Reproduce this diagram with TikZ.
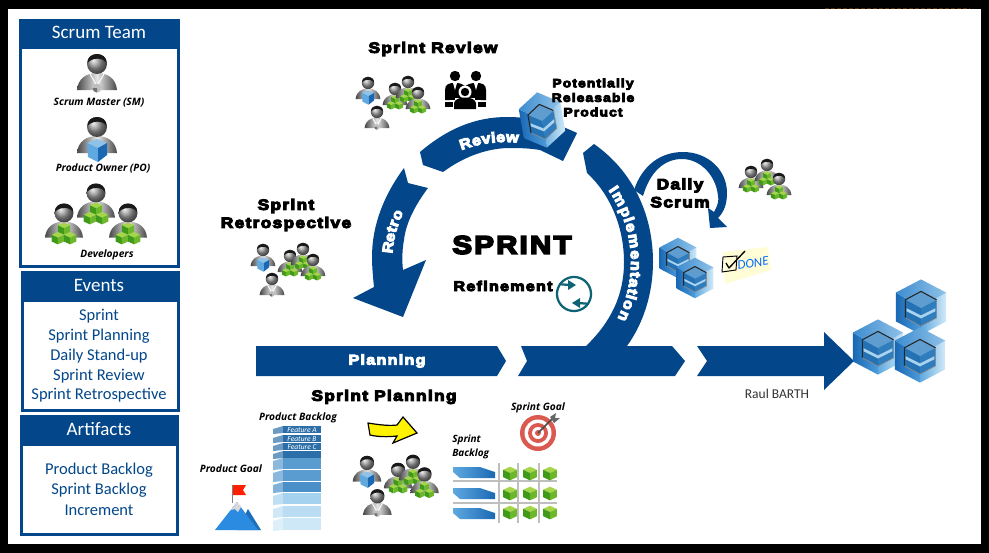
\documentclass[tikz,border=0pt]{standalone}
\usepackage{fontspec}
\usetikzlibrary{shadings}
\newfontfamily\cali{Carlito}
\newfontfamily\labit[ItalicFont=* Bold Italic]{Open Sans}
\newfontfamily\blk[FakeBold=7,FakeStretch=1.15,LetterSpace=9]{Liberation Sans Bold}
\newfontfamily\blkb[FakeBold=7,FakeStretch=1.12]{Liberation Sans Bold}
\definecolor{navy}{HTML}{03478A}
\definecolor{teal2}{HTML}{0E6475}
\definecolor{bkA}{HTML}{2C6EA8}
\definecolor{bkB}{HTML}{5A9BD0}
\definecolor{bkC}{HTML}{4A8FC8}
\definecolor{bkD}{HTML}{A5D2EE}
\definecolor{bkE}{HTML}{BBDDF3}
\definecolor{bkF}{HTML}{CFE8F7}
\definecolor{trg}{HTML}{DB5A50}
\definecolor{gtop}{HTML}{A5D64A}
\definecolor{gleft}{HTML}{3F9A1A}
\definecolor{gright}{HTML}{6DB82A}
\definecolor{cA}{HTML}{1A68B4}
\definecolor{cB}{HTML}{4C9BDA}
\definecolor{cC}{HTML}{5FA9E0}
\definecolor{cD}{HTML}{D3EAF8}
\definecolor{cE}{HTML}{8FC2E8}
\definecolor{cF}{HTML}{3D8CCF}
\definecolor{iT}{HTML}{5F9DD0}
\definecolor{iL}{HTML}{2472B4}
\definecolor{iR}{HTML}{2F7DBD}
\definecolor{iS}{HTML}{A9D3EF}
\definecolor{mtA}{HTML}{2A8BE0}
\definecolor{mtB}{HTML}{1E6FB8}
\newcommand{\fpx}[1]{\fontsize{\dimexpr #1pt*3/4\relax}{\dimexpr #1pt*9/10\relax}\selectfont}
\tikzset{
  blacklabel/.style={font=\blk\fpx{15},text=black,inner sep=0pt,align=center},
  onband/.style={font=\blk\fpx{14},text=white,inner sep=0pt},
  bandletter/.style={font=\blkb\fpx{14.5},text=white,inner sep=0pt,anchor=base},
  pantitle/.style={font=\cali\fpx{19},text=white,inner sep=0pt},
  panitem/.style={font=\cali\fpx{16.5},text=navy,inner sep=0pt},
  itlabel/.style={font=\labit\itshape\fpx{10.2},text=black,inner sep=0pt,align=left},
  personbase/.pic={
    \path[shade,left color=black!72,right color=black!72,middle color=black!10]
      (-20,26) .. controls (-19,14) and (-10,9) .. (0,9) .. controls (10,9) and (19,14) .. (20,26) -- cycle;
    \shade[ball color=black!40] (0,0) circle (10);
    \fill[black!90] (-9.7,-1) .. controls (-10,-13) and (10,-13) .. (9.7,-1) .. controls (7,-5) and (2,-6) .. (-3,-5) .. controls (-6,-4) and (-8,-3) .. (-9.7,-1) -- cycle;
  },
  smperson/.pic={
    \pic[transform shape] at (0,0) {personbase};
    \draw[white,line width=.7pt] (-7,10) -- (0,22) -- (7,10);
    \fill[black!25] (0,24) circle (4.5);
    \fill[black!55] (-4.5,24) arc[start angle=180,end angle=90,radius=4.5] -- (0,24) -- cycle;
  },
  poperson/.pic={
    \pic[transform shape] at (0,0) {personbase};
    \fill[cE] (-10,16) -- (0,12) -- (10,16) -- (1,21) -- cycle;
    \fill[cC] (-10,16) -- (1,21) -- (1,35) -- (-9,30) -- cycle;
    \fill[cA] (10,16) -- (1,21) -- (1,35) -- (10,28) -- cycle;
  },
  gcube/.pic={
    \fill[gtop] (-6.5,-3) -- (0,-6) -- (6.5,-3) -- (0,0) -- cycle;
    \fill[gleft] (-6.5,-3) -- (0,0) -- (0,7) -- (-6.5,4) -- cycle;
    \fill[gright] (6.5,-3) -- (0,0) -- (0,7) -- (6.5,4) -- cycle;
  },
  devperson/.pic={
    \pic[transform shape] at (0,0) {personbase};
    \pic[transform shape] at (0,16) {gcube};
    \pic[transform shape] at (-6.5,26) {gcube};
    \pic[transform shape] at (6.5,26) {gcube};
  },
  teamgroup/.pic={
    \pic[transform shape,scale=.62] at (0,0) {poperson};
    \pic[transform shape,scale=.62] at (27,6) {devperson};
    \pic[transform shape,scale=.62] at (40,-1) {devperson};
    \pic[transform shape,scale=.62] at (50,10) {devperson};
    \pic[transform shape,scale=.62] at (9,29) {smperson};
  },
  bcube/.pic={
    \shade[left color=cA,right color=cB] (-21,-12) -- (0,0) -- (0,23) -- (-21,12) -- cycle;
    \shade[left color=cC,right color=cD] (21,-12) -- (0,0) -- (0,23) -- (21,12) -- cycle;
    \shade[left color=cF,right color=cE] (-21,-12) -- (0,-23) -- (21,-12) -- (0,0) -- cycle;
    \fill[iT] (0,-13) -- (13,-6) -- (0,1) -- (-13,-6) -- cycle;
    \fill[iL] (-13,-6) -- (0,1) -- (0,16) -- (-13,9) -- cycle;
    \fill[iR] (13,-6) -- (0,1) -- (0,16) -- (13,9) -- cycle;
    \fill[iS] (-12,1) -- (0,7) -- (0,9.5) -- (-12,3.5) -- cycle;
    \fill[iS] (12,1) -- (0,7) -- (0,9.5) -- (12,3.5) -- cycle;
    \draw[black!85,line width=.8pt,line join=round] (-13,9) -- (-13,-6) -- (0,-13) -- (13,-6);
    \draw[black!45,line width=.5pt,line join=round] (13,-6) -- (13,9) -- (0,16) -- (-13,9);
  }
}
\begin{document}
\begin{tikzpicture}[x=.75pt,y=-.75pt]
\useasboundingbox (0,0) rectangle (989,553);
\fill[black] (0,0) rectangle (989,553);
\fill[white] (8,9) rectangle (981,544);
\draw[orange!35!black,line width=.5pt,dash pattern=on 3pt off 1.5pt] (825,8.3) -- (970,8.3);

% panels
\fill[navy] (19,19) rectangle (180,268);
\fill[white] (22,49) rectangle (177,265);
\node[pantitle] (tTeam) at (99,32) {Scrum Team};
\fill[navy] (21,271) rectangle (180,412);
\fill[white] (24,302) rectangle (177,409);
\node[pantitle] (tEvents) at (99,285) {Events};
\node[panitem] (e1) at (99,316) {Sprint};
\node[panitem] (e2) at (99,336) {Sprint Planning};
\node[panitem] (e3) at (99,356) {Daily Stand-up};
\node[panitem] (e4) at (99,376) {Sprint Review};
\node[panitem] (e5) at (99,395) {Sprint Retrospective};
\fill[navy] (20,415) rectangle (179,536);
\fill[white] (23,446) rectangle (176,533);
\node[pantitle] (tArt) at (99,429) {Artifacts};
\node[panitem] (a1) at (99,470) {Product Backlog};
\node[panitem] (a2) at (99,490) {Sprint Backlog};
\node[panitem] (a3) at (99,510) {Increment};

\pic at (97,64) {smperson};
\node[itlabel] (lSM) at (99,103) {Scrum Master (SM)};
\pic at (97,127) {poperson};
\node[itlabel] (lPO) at (103,168) {Product Owner (PO)};
\pic[scale=.95] at (96,193) {devperson};
\pic[scale=.95] at (64,213) {devperson};
\pic[scale=.95] at (128,213) {devperson};
\node[itlabel] (lDev) at (107,255) {Developers};

% chevrons
\fill[navy] (256,346) -- (497,346) -- (506,361) -- (497,376) -- (256,376) -- cycle;
\fill[navy] (521,346) -- (672,346) -- (685,361) -- (675,376) -- (518,376) -- (527,361) -- cycle;
\fill[navy] (697,346) -- (824,346) -- (824,332) -- (854,361) -- (824,390) -- (824,376) -- (697,376) -- (707,361) -- cycle;

% implementation arc
\fill[navy] (594,144) .. controls (634,172) and (653,216) .. (653,262) .. controls (653,294) and (643,324) .. (627,346)
  -- (586,346) .. controls (611,322) and (624,295) .. (624,262) .. controls (624,227) and (610,194) .. (587,173) -- (583,153) -- cycle;
% review arc
\fill[navy] (420,152) .. controls (447,129) and (475,117) .. (507,117) .. controls (525,117) and (550,120) .. (577,133)
  -- (563,161) -- (540,150) .. controls (528,148) and (517,148) .. (507,148) .. controls (484,149) and (462,158) .. (443,172) -- (423,165) -- cycle;
% retro arc
\fill[navy] (404,168) .. controls (384,195) and (372,225) .. (372,257) .. controls (372,267) and (373,277) .. (374,287)
  -- (353,298) -- (403,317) -- (426,260) -- (403,270) .. controls (402,262) and (402,250) .. (404,240) .. controls (406,222) and (416,204) .. (428,188) -- (408,183) -- cycle;
% daily arc
\fill[navy] (634,190) .. controls (642,166) and (660,152) .. (683,152) .. controls (708,152) and (727,170) .. (727,193) .. controls (727,204) and (724,212) .. (718,218)
  -- (727,227) -- (710,228) -- (708,208) -- (714,212) .. controls (718,205) and (719,200) .. (718,196) .. controls (716,175) and (700,159) .. (682,159) .. controls (664,159) and (650,172) .. (643,196) -- cycle;

% texts on bands
\foreach \ch/\ang [count=\i] in {I/-33.8,m/-28.9,p/-22.6,l/-18.9,e/-15.4,m/-9.3,e/-3.2,n/1.7,t/5.6,a/9.3,t/13.1,i/15.6,o/19.3,n/24.5}{
  \node[bandletter,rotate={270-\ang}] (impl\i) at ({505+126*cos(\ang)},{262+126*sin(\ang)}) {\ch};
}
\foreach \ch/\ang [count=\i] in {R/251.5,e/256.7,v/261.2,i/264.6,e/268,w/273.4}{
  \node[bandletter,rotate={270-\ang}] (revw\i) at ({505+120*cos(\ang)},{262+120*sin(\ang)}) {\ch};
}
\foreach \ch/\ang [count=\i] in {R/187.2,e/192.1,t/196,r/199.2,o/203.6}{
  \node[bandletter,rotate={270-\ang}] (retr\i) at ({505+113*cos(\ang)},{262+113*sin(\ang)}) {\ch};
}
\node[onband] (tPlan) at (387,361) {Planning};

\node[font=\blk\fpx{25.5},inner sep=0pt] (tSprint) at (512,245) {SPRINT};
\node[blacklabel,font=\blk\fpx{14}] (tRefine) at (503,286) {Refinement};
% refinement icon
\draw[teal2,line width=1.7pt] plot[smooth,samples=25,domain=215:395] ({574+17*cos(\x)},{294+17*sin(\x)}) -- (578,303);
\draw[teal2,line width=1.7pt] plot[smooth,samples=25,domain=35:215] ({574+17*cos(\x)},{294+17*sin(\x)}) -- (570,285);
\fill[teal2] (572,303) -- (580,298) -- (580,308) -- cycle;
\fill[teal2] (576,285) -- (568,280) -- (568,290) -- cycle;

% labels and icons at the top
\node[blacklabel] (tReview) at (433,49) {Sprint Review};
\pic at (368,83) {teamgroup};
\fill[black] (455,76) circle (5.2);
\fill[black] (476,76) circle (5.2);
\fill[black] (445,100) -- (445,90) .. controls (445,84) and (449,83) .. (455,83) .. controls (460,83) and (463,84) .. (465,86) .. controls (468,84) and (471,83) .. (476,83) .. controls (482,83) and (486,84) .. (486,90) -- (486,100) -- cycle;
\fill[white] (453,83) -- (457,83) -- (455,90) -- cycle;
\fill[white] (474,83) -- (478,83) -- (476,90) -- cycle;
\fill[white] (450,100) rectangle (481,102);
\fill[white] (465,92) circle (6.5);
\fill[black] (465,92) circle (4.2);
\fill[white] (455,98) rectangle (475,110);
\fill[black] (454,109) -- (454,103) .. controls (455,99) and (460,97.5) .. (465,97.5) .. controls (470,97.5) and (475,99) .. (476,103) -- (476,109) -- cycle;
\fill[black] (445,101.5) rectangle (453,107);
\fill[black] (478,101.5) rectangle (486,107);

\pic[rotate=10,yscale=1.22] at (542,120) {bcube};
\node[blacklabel,font=\blk\fpx{12.1}] (tPot) at (593,97.5) {Potentially\\Releasable\\Product};

\node[blacklabel] (tRetro) at (286,215) {Sprint\\Retrospective};
\pic at (263,250) {teamgroup};

\node[blacklabel] (tDaily) at (680,193) {Daily\\Scrum};
\pic[scale=.62] at (751,172) {devperson};
\pic[scale=.62] at (767,165) {devperson};
\pic[scale=.62] at (779,179) {devperson};

\pic[scale=.88] at (678,258) {bcube};
\pic[scale=.88] at (695,278) {bcube};
% done
\fill[yellow!16] (723,252) -- (768,247) -- (771,270) -- (725,284) -- cycle;
\draw[black,line width=.7pt] (723,257) -- (737,256) -- (736,270) -- (722,272) -- cycle;
\draw[black,line width=1pt,line join=round] (726,263) -- (729,268) -- (745,251);
\node[font=\cali\itshape\fpx{13},text=blue!60!cyan,inner sep=0pt,rotate=8] (tDone) at (753,263) {DONE};

% planning row
\node[blacklabel] (tPlanning) at (384,397) {Sprint Planning};
\node[itlabel] (lGoal) at (231,469) {Product Goal};
\node[itlabel] (lBack) at (298,418) {Product Backlog};
% mountain
\fill[mtB] (248,509) -- (261,530) -- (237,530) -- cycle;
\fill[mtA] (237,502) -- (258,530) -- (215,530) -- cycle;
\fill[black!15] (237,502) -- (231,510) -- (235,509) -- (238,512) -- (241,507) -- cycle;
\draw[black!50,line width=.8pt] (232.5,485) -- (232.5,503);
\fill[red!75!orange] (233,485) -- (246,485) -- (243,490) -- (246,495) -- (233,495) -- cycle;
% backlog stack
\foreach \ya/\yb/\col in {426/433/bkA,435/442/bkA,443/450/bkA,451/458/bkA,458/469/bkB,470/481/bkB,482/492/bkC,493/504/bkD,506/517/bkE,518/530/bkF}{
  \fill[\col!70!white] (273,\ya+3) -- (283,\ya) -- (283,\yb) -- (273,\yb+1) -- cycle;
  \fill[\col] (283,\ya) rectangle (321,\yb);
}
\node[font=\cali\itshape\fpx{7.5},text=white,inner sep=0pt] (fa) at (302,430) {Feature A};
\node[font=\cali\itshape\fpx{7.5},text=white,inner sep=0pt] (fb) at (302,439) {Feature B};
\node[font=\cali\itshape\fpx{7.5},text=white,inner sep=0pt] (fc) at (302,447) {Feature C};
% yellow arrow
\draw[black,fill=yellow,line width=.9pt,line join=miter] (368,423) .. controls (380,425) and (390,426) .. (397,425) -- (403,417) -- (417,433) -- (393,443) -- (397,436) .. controls (388,437) and (378,437) .. (370,435) -- cycle;
\pic[scale=1.15] at (367,463) {teamgroup};
% sprint backlog
\node[itlabel,anchor=west,font=\labit\itshape\fpx{10}] (lSB) at (452,447) {Sprint\\[2pt]Backlog};
\node[itlabel] (lSG) at (538,408) {Sprint Goal};
\fill[trg] (538,433) circle (18);
\fill[white] (538,433) circle (13.5);
\fill[trg] (538,433) circle (10);
\fill[white] (538,433) circle (6);
\fill[trg] (538,433) circle (3);
\draw[black!70,line width=1.1pt] (538,433) -- (553,418);
\fill[black!60] (550,417) -- (556,413) -- (555,418) -- (560,418) -- (554,423) -- cycle;
\fill[black!25] (498,463) rectangle (500,523);
\fill[black!25] (517,463) rectangle (519,523);
\fill[black!25] (538,463) rectangle (540,523);
\fill[black!25] (453,480) rectangle (557,482);
\fill[black!25] (453,502) rectangle (557,504);
\foreach \yy in {467,488,508}{
  \shade[left color=cC,right color=cA] (453,\yy) -- (480,\yy) -- (495,\yy+5) -- (495,\yy+11) -- (460,\yy+11) -- (453,\yy+5) -- cycle;
}
\foreach \cx in {510,530,550}{
  \foreach \cy in {473,493,512}{
    \pic[scale=1.05] at (\cx,\cy) {gcube};
  }
}
% final arrow text and cubes
\node[font=\cali\fpx{13.5},text=black!80,inner sep=0pt] (tRaul) at (777,394) {Raul BARTH};
\pic[scale=1.2] at (921,307) {bcube};
\pic[scale=1.2] at (878,347) {bcube};
\pic[scale=1.2] at (920,355) {bcube};
\end{tikzpicture}
\end{document}
